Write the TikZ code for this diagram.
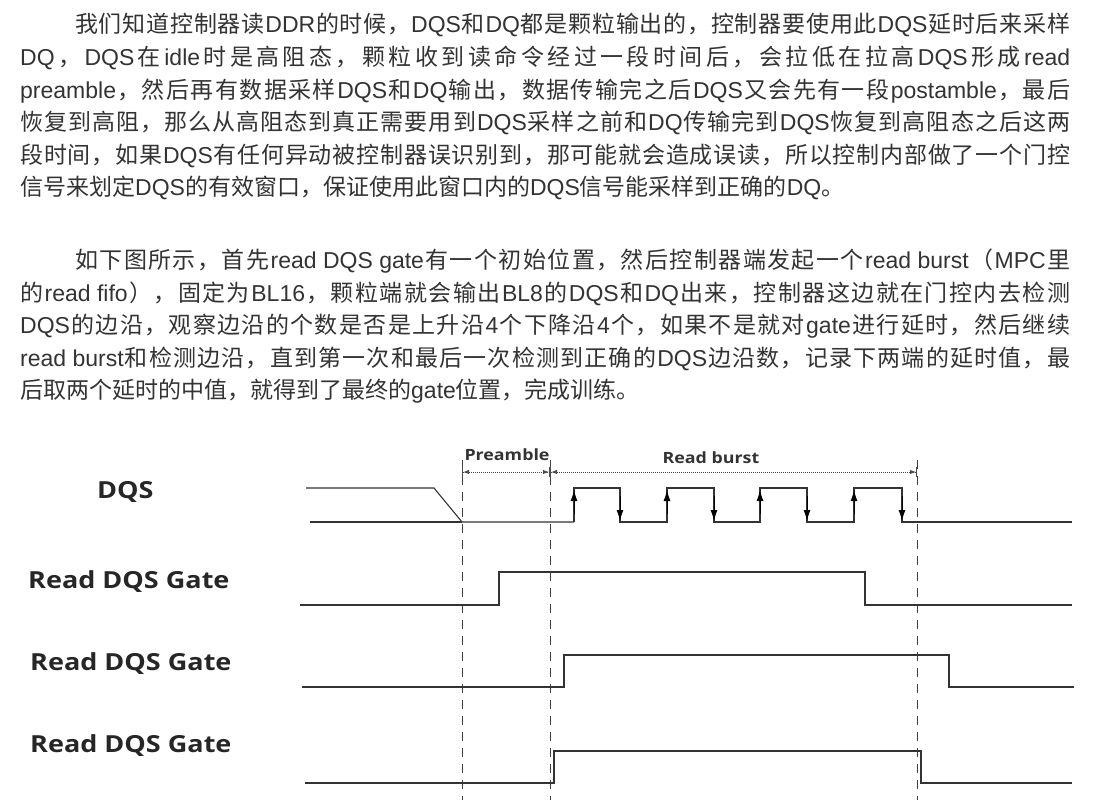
\documentclass[tikz,border=0pt]{standalone}
\usepackage{fontspec}
\setmainfont{Open Sans}
\newfontfamily\cjk{Noto Sans CJK SC}
\newfontfamily\latn{Liberation Sans}
\newfontfamily\lbl[FakeStretch=1.15]{Open Sans}
\XeTeXinterchartokenstate=1
\newXeTeXintercharclass\hanclass
\count255="4E00
\loop\ifnum\count255<"A000 \XeTeXcharclass\count255=\hanclass \advance\count255 by 1 \repeat
\count255="3000
\loop\ifnum\count255<"3040 \XeTeXcharclass\count255=\hanclass \advance\count255 by 1 \repeat
\count255="FF00
\loop\ifnum\count255<"FF70 \XeTeXcharclass\count255=\hanclass \advance\count255 by 1 \repeat
\XeTeXinterchartoks 0 \hanclass = {\hskip 0pt plus 1fil minus 1pt\cjk}
\XeTeXinterchartoks \hanclass 0 = {\hskip 0pt plus 1fil minus 1pt\latn}
\XeTeXinterchartoks \hanclass \hanclass = {\hskip 0pt plus 1fil minus 2pt}
\usetikzlibrary{arrows,arrows.meta,calc,positioning}
\tikzset{>=latex}
\definecolor{txt}{HTML}{333333}
\newcommand\fullline[1]{\hbox to 1050pt{#1}}
\newcommand\firstline[1]{\hbox to 995pt{#1}}
\tikzset{
  para/.style={anchor=base west,inner sep=0pt,font=\cjk\fontsize{23}{26}\selectfont,text=txt},
  sig/.style={line width=1.1pt,black!80},
  guide/.style={dashed,dash pattern=on 9pt off 7pt,line width=0.9pt,black!75},
  siglabel/.style={anchor=west,inner sep=0pt,font=\lbl\bfseries\fontsize{23.5}{26}\selectfont,text=black!85},
  tlabel/.style={font=\lbl\bfseries\fontsize{15.5}{18}\selectfont,text=black!80},
  edge/.style={-{Latex[length=11pt,width=7pt]},line width=1pt},
  span/.style={{Bar[width=10pt]Latex[length=6pt]}-{Latex[length=6pt]Bar[width=10pt]},densely dotted,line width=1pt,black!70}
}
\begin{document}
\begin{tikzpicture}[x=1pt,y=-1pt]
\useasboundingbox (0,0) rectangle (1099,800);
% text
\node[para] (p1) at (75,33) {\firstline{我们知道控制器读DDR的时候，DQS和DQ都是颗粒输出的，控制器要使用此DQS延时后来采样}};
\node[para] (p2) at (20,65) {\fullline{\latn DQ，DQS在idle时是高阻态，颗粒收到读命令经过一段时间后，会拉低在拉高DQS形成read}};
\node[para] (p3) at (20,98) {\fullline{\latn preamble，然后再有数据采样DQS和DQ输出，数据传输完之后DQS又会先有一段postamble，最后}};
\node[para] (p4) at (20,130) {\fullline{恢复到高阻，那么从高阻态到真正需要用到DQS采样之前和DQ传输完到DQS恢复到高阻态之后这两}};
\node[para] (p5) at (20,163) {\fullline{段时间，如果DQS有任何异动被控制器误识别到，那可能就会造成误读，所以控制内部做了一个门控}};
\node[para] (p6) at (20,195) {信号来划定DQS的有效窗口，保证使用此窗口内的DQS信号能采样到正确的DQ。};
\node[para] (q1) at (75,268) {\firstline{如下图所示，首先read DQS gate有一个初始位置，然后控制器端发起一个read burst（MPC里}};
\node[para] (q2) at (20,301) {\fullline{的read fifo），固定为BL16，颗粒端就会输出BL8的DQS和DQ出来，控制器这边就在门控内去检测}};
\node[para] (q3) at (20,333) {\fullline{\latn DQS的边沿，观察边沿的个数是否是上升沿4个下降沿4个，如果不是就对gate进行延时，然后继续}};
\node[para] (q4) at (20,366) {\fullline{\latn read burst和检测边沿，直到第一次和最后一次检测到正确的DQS边沿数，记录下两端的延时值，最}};
\node[para] (q5) at (20,398) {后取两个延时的中值，就得到了最终的gate位置，完成训练。};

% labels
\node[siglabel] (ldqs) at (97,492) {DQS};
\node[siglabel] (lg1) at (28,582) {Read DQS Gate};
\node[siglabel] (lg2) at (30,664) {Read DQS Gate};
\node[siglabel] (lg3) at (30,746) {Read DQS Gate};

% guides
\coordinate (ta) at (462,460);
\coordinate (tb) at (550,460);
\coordinate (tc) at (917,460);
\foreach \t in {ta,tb,tc}
  \draw[guide] (\t) -- ($(\t)+(0,340)$);
\draw[span] (ta |- 0,472) -- (tb |- 0,472);
\draw[span] (tb |- 0,472) -- (tc |- 0,472);
\node[tlabel] (pre) at (507,455) {Preamble};
\node[tlabel] (rb) at (711,458) {Read burst};

% DQS
\draw[sig] (306,488) -- (434,488) -- (462,522) -- (574,522);
\draw[sig] (310,522) -- (462,522);
\draw[sig] (574,522) \foreach \r/\f in {574/620,667/714,760/807,854/902}{ -- (\r,522) -- (\r,488) -- (\f,488) -- (\f,522)} -- (1072,522);
\foreach \r/\f in {574/620,667/714,760/807,854/902}{
  \draw[edge] (\r,514) -- (\r,490);
  \draw[edge] (\f,496) -- (\f,521);
}

% gates
\draw[sig] (300,605) -- (499,605) -- (499,572) -- (865,572) -- (865,605) -- (1072,605);
\draw[sig] (302,687) -- (564,687) -- (564,655) -- (949,655) -- (949,687) -- (1074,687);
\draw[sig] (305,783) -- (554,783) -- (554,751) -- (921,751) -- (921,783) -- (1072,783);
\end{tikzpicture}
\end{document}
